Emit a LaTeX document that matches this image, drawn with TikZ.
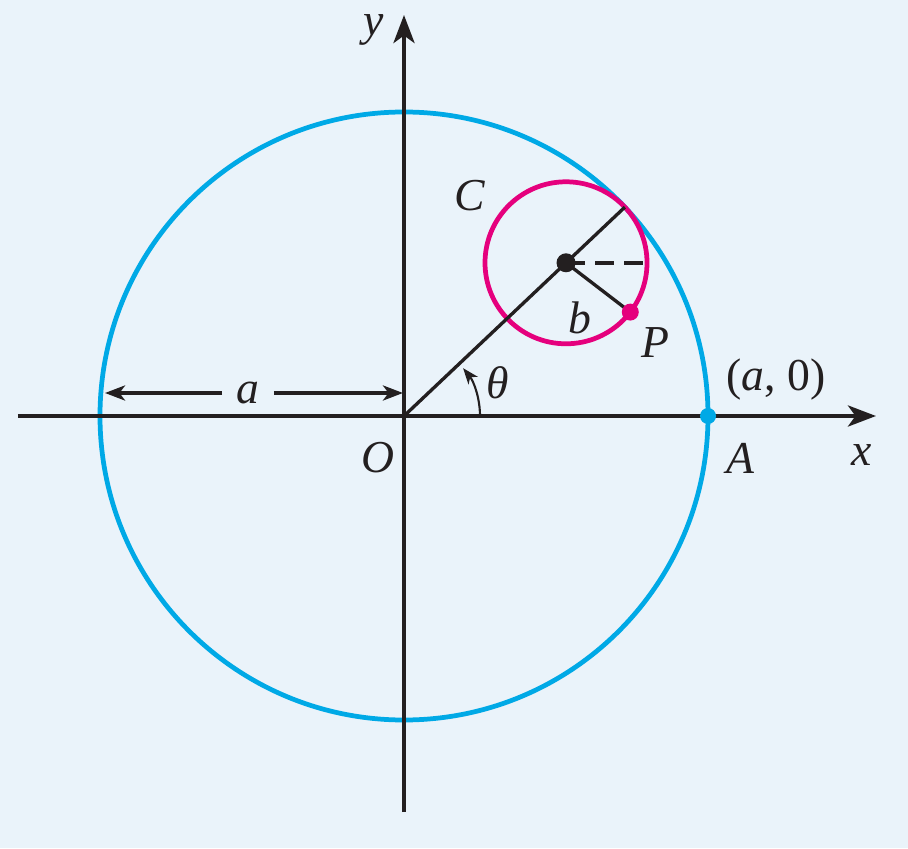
\documentclass[tikz,border=0pt]{standalone}
\usepackage{fontspec}
\setmainfont{Liberation Serif}
\usetikzlibrary{arrows.meta,calc}
\definecolor{bgblue}{HTML}{EAF3FA}
\definecolor{ringblue}{HTML}{00A9E6}
\definecolor{ringpink}{HTML}{E5007D}
\definecolor{ink}{HTML}{231F20}

\begin{document}
\begin{tikzpicture}[
    x=0.02cm, y=0.02cm,
    axis/.style={draw=ink, line width=2.5pt, -{Stealth[length=0.56cm, width=0.42cm, inset=0.15cm]}},
    ring/.style={line width=2.7pt},
    spoke/.style={draw=ink, line width=1.9pt},
    dim/.style={draw=ink, line width=2.2pt, -{Stealth[length=0.4cm, width=0.3cm, inset=0.11cm]}},
    dot/.style={circle, inner sep=0pt, minimum size=#1},
    lbl/.style={font=\fontsize{26}{30}\selectfont\itshape, text=ink, inner sep=0pt}
]
    % background and frame
    \fill[bgblue] (-404,-432) rectangle (504,416);
    \useasboundingbox (-404,-432) rectangle (504,416);

    % points
    \coordinate (O) at (0,0);
    \coordinate (xs) at (-386,0);
    \coordinate (xe) at (472,0);
    \coordinate (ys) at (0,-396);
    \coordinate (ye) at (0,401);
    \coordinate (ctr) at (43.4:223);
    \coordinate (touch) at (43.4:304);
    \coordinate (rim) at ($(ctr)+(81,0)$);
    \coordinate (ptP) at ($(ctr)+(-37.5:81)$);

    % circles
    \draw[ring, ringblue] (O) circle (304);
    \draw[ring, ringpink] (ctr) circle (81);

    % axes
    \draw[axis] (xs) -- (xe);
    \draw[axis] (ys) -- (ye);

    % radius lines
    \draw[spoke] (O) -- (touch);
    \draw[spoke] (ctr) -- (ptP);
    \draw[spoke, line width=2.2pt, dash pattern=on 11pt off 5.5pt] (ctr) -- (rim);

    % angle
    \draw[ink, line width=1.2pt, -{Stealth[length=0.32cm, width=0.24cm, inset=0.09cm]}] (76,0) arc (0:39:76);

    % dots
    \node[dot=0.38cm, fill=ink] (cdot) at (ctr) {};
    \node[dot=0.34cm, fill=ringpink] (pdot) at (ptP) {};
    \node[dot=0.32cm, fill=ringblue] (adot) at (304,0) {};

    % dimension a
    \node[lbl] (la) at (-156,23) {a};
    \coordinate (al) at (-299,23);
    \coordinate (ar) at (-1,23);
    \draw[dim] ($(la.west)+(-14,0)$) -- (al);
    \draw[dim] ($(la.east)+(14,0)$) -- (ar);

    % labels
    \node[lbl] (ly) at (-30,386) {y};
    \node[lbl] (lx) at (458,-39) {x};
    \node[lbl] (lO) at (-26,-42) {O};
    \node[lbl] (lA) at (336,-42) {A};
    \node[lbl] (lC) at (66,220) {C};
    \node[lbl] (lb) at (176,98) {b};
    \node[lbl] (lP) at (251,73) {P};
    \node[lbl] (lt) at (94,33) {θ};
    \node[lbl] (la0) at (372,36) {\upshape(\textit{a}, 0)};
\end{tikzpicture}
\end{document}
